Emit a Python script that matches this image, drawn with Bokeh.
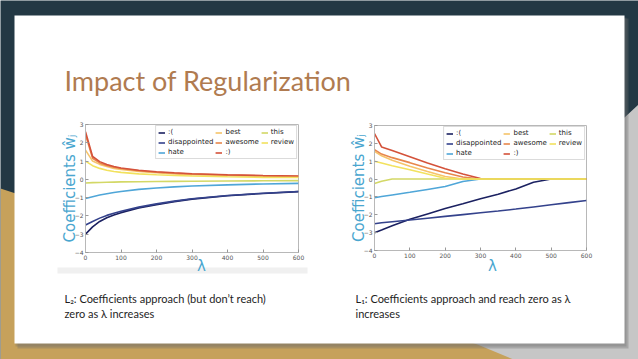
from bokeh.plotting import figure
from bokeh.models import Range1d, Legend, LegendItem, FixedTicker
from bokeh.core.properties import value
from bokeh.embed import file_html
from bokeh.resources import INLINE

# ---------------- data ----------------
words = [":(", "disappointed", "hate", "best", "awesome", ":)", "this", "review"]
word_colors = ["#1b2161", "#34428c", "#4fa6d8", "#f6c46a", "#e8874c", "#d4523a", "#d3d866", "#f2e25e"]

x_ticks = [0, 100, 200, 300, 400, 500, 600]
y_ticks = [-4, -3, -2, -1, 0, 1, 2, 3]

# L2 (ridge) coefficient paths
lam_l2 = [0, 20, 40, 60, 80, 100, 150, 200, 250, 300, 400, 500, 600]
l2_sad = [-3.0, -2.6, -2.3, -2.1, -1.95, -1.82, -1.57, -1.38, -1.22, -1.08, -0.9, -0.77, -0.67]
l2_disappointed = [-2.5, -2.3, -2.12, -1.97, -1.85, -1.74, -1.52, -1.34, -1.19, -1.06, -0.88, -0.76, -0.66]
l2_hate = [-1.05, -0.95, -0.86, -0.79, -0.72, -0.66, -0.55, -0.47, -0.41, -0.36, -0.3, -0.25, -0.22]
l2_best = [1.6, 1.0, 0.82, 0.7, 0.6, 0.54, 0.43, 0.36, 0.3, 0.26, 0.21, 0.17, 0.15]
l2_awesome = [2.45, 1.15, 0.9, 0.76, 0.66, 0.59, 0.47, 0.39, 0.33, 0.29, 0.23, 0.19, 0.16]
l2_happy = [2.6, 1.25, 0.97, 0.81, 0.7, 0.62, 0.5, 0.42, 0.36, 0.31, 0.25, 0.21, 0.18]
l2_this = [-0.2, -0.18, -0.17, -0.16, -0.15, -0.14, -0.13, -0.12, -0.11, -0.1, -0.09, -0.08, -0.07]
l2_review = [1.0, 0.75, 0.6, 0.5, 0.43, 0.38, 0.3, 0.25, 0.21, 0.18, 0.14, 0.11, 0.1]

# L1 (lasso) coefficient paths
lam_l1 = [0, 20, 50, 100, 150, 200, 250, 300, 350, 400, 450, 500, 550, 600]
l1_sad = [-3.0, -2.85, -2.62, -2.25, -1.95, -1.65, -1.38, -1.1, -0.85, -0.55, -0.18, 0, 0, 0]
l1_disappointed = [-2.5, -2.45, -2.39, -2.29, -2.19, -2.09, -1.99, -1.89, -1.79, -1.68, -1.56, -1.44, -1.32, -1.2]
l1_hate = [-1.05, -0.98, -0.89, -0.74, -0.58, -0.42, -0.14, 0, 0, 0, 0, 0, 0, 0]
l1_best = [1.55, 1.3, 1.05, 0.72, 0.42, 0.14, 0, 0, 0, 0, 0, 0, 0, 0]
l1_awesome = [1.65, 1.4, 1.2, 0.92, 0.62, 0.35, 0.12, 0, 0, 0, 0, 0, 0, 0]
l1_happy = [2.55, 1.8, 1.6, 1.25, 0.9, 0.58, 0.28, 0.03, 0, 0, 0, 0, 0, 0]
l1_this = [-0.25, -0.12, 0, 0, 0, 0, 0, 0, 0, 0, 0, 0, 0, 0]
l1_review = [1.0, 0.9, 0.75, 0.52, 0.28, 0.05, 0, 0, 0, 0, 0, 0, 0, 0]

l2_series = [l2_sad, l2_disappointed, l2_hate, l2_best, l2_awesome, l2_happy, l2_this, l2_review]
l1_series = [l1_sad, l1_disappointed, l1_hate, l1_best, l1_awesome, l1_happy, l1_this, l1_review]

title_text = "Impact of Regularization"
cap_l2 = ["L\u2082: Coefficients approach (but don\u2019t reach)", "zero as \u03bb increases"]
cap_l1 = ["L\u2081: Coefficients approach and reach zero as \u03bb", "increases"]
x_label = "\u03bb"
y_label = "Coefficients \u0175\u2c7c"

# ---------------- styles ----------------
NAVY = "#233844"
GOLD = "#c6a15b"
GREY = "#c6c6c6"
TITLE_C = "#b07b50"
LABEL_C = "#4aa6cf"

W, H = 638, 359

# background slide
bg = figure(width=W, height=H, x_range=Range1d(0, W), y_range=Range1d(H, 0),
            x_axis_type=None, y_axis_type=None, toolbar_location=None,
            output_backend="svg", min_border=0, outline_line_color=None,
            background_fill_color=NAVY, border_fill_color=NAVY)
bg.grid.visible = False
bg.patch([638, 624, 200, 638], [104, 117, 359, 359], color=GREY, line_color=None)
bg.patch([0, 477, 513, 0], [188, 344, 359, 359], color=GOLD, line_color=None)
bg.quad(left=17, right=628, top=18, bottom=348, color="#6e6e6e", alpha=0.35, line_color=None)
bg.quad(left=15, right=626, top=17, bottom=346, color="#6e6e6e", alpha=0.3, line_color=None)
bg.quad(left=14, right=624, top=15, bottom=343, color="white", line_color=None)
bg.quad(left=57, right=307, top=267, bottom=273, color="#f0f0f0", line_color=None)
bg.text(x=[64], y=[80], text=[title_text], text_font=value("Lato"),
        text_font_size="27px", text_color=TITLE_C, text_baseline="alphabetic")
for xx, lines in ((64, cap_l2), (355, cap_l1)):
    bg.text(x=[xx, xx], y=[298, 313], text=lines, text_font=value("Lato"),
            text_font_size="11px", text_color="#1e1e1e", text_baseline="alphabetic")
# x-axis titles of the two charts (drawn beneath their transparent borders)
bg.text(x=[201, 492], y=[265, 265], text=[x_label, x_label], text_font=value("DejaVu Sans"),
        text_font_size="15px", text_color=LABEL_C, text_align="center", text_baseline="middle")


def chart(x0, x1, y0, y1, fx0, fx1, fy0, fy1, lam, series):
    p = figure(width=x1 - x0, height=y1 - y0,
               x_range=Range1d(0, 600), y_range=Range1d(-4, 3),
               toolbar_location=None, output_backend="svg",
               min_border_left=fx0 - x0, min_border_right=x1 - fx1,
               min_border_top=fy0 - y0, min_border_bottom=y1 - fy1,
               outline_line_color="#b8b8b8",
               background_fill_color="white", border_fill_alpha=0)
    p.styles = {"position": "absolute", "left": f"{x0}px", "top": f"{y0}px"}
    p.grid.visible = False
    items = []
    for name, col, ys in zip(words, word_colors, series):
        r = p.line(lam, ys, line_color=col, line_width=1.6)
        items.append(LegendItem(label=name, renderers=[r]))
    for ax in (p.xaxis[0], p.yaxis[0]):
        ax.axis_line_color = "#b8b8b8"
        ax.major_tick_in = 3
        ax.major_tick_out = 0
        ax.major_tick_line_color = "#999999"
        ax.minor_tick_line_color = None
        ax.major_label_text_font = "DejaVu Sans"
        ax.major_label_text_font_size = "6px"
        ax.major_label_text_color = "#555555"
        ax.major_label_standoff = 2
    p.xaxis.ticker = FixedTicker(ticks=x_ticks)
    p.yaxis.ticker = FixedTicker(ticks=y_ticks)
    p.yaxis.axis_label = y_label
    p.yaxis.axis_label_text_font = "DejaVu Sans"
    p.yaxis.axis_label_text_font_style = "normal"
    p.yaxis.axis_label_text_color = LABEL_C
    p.yaxis.axis_label_text_font_size = "15px"
    p.yaxis.axis_label_standoff = -7
    leg = Legend(items=items, location="top_right", orientation="vertical", nrows=3,
                 label_text_font="DejaVu Sans", label_text_font_size="7px",
                 label_text_color="#222222", label_height=7, label_standoff=3,
                 glyph_width=7, glyph_height=7, spacing=2, padding=2, margin=1,
                 border_line_color="#b8b8b8", background_fill_alpha=1)
    p.add_layout(leg)
    return p


c1 = chart(57, 307, 117, 272, 85, 298, 124, 252, lam_l2, l2_series)
c2 = chart(345, 600, 117, 272, 374, 586, 125, 250, lam_l1, l1_series)

# separate roots so that the plot frames are not aligned with each other
p = [bg, c1, c2]

open("out.html", "w").write(file_html(p, INLINE))
